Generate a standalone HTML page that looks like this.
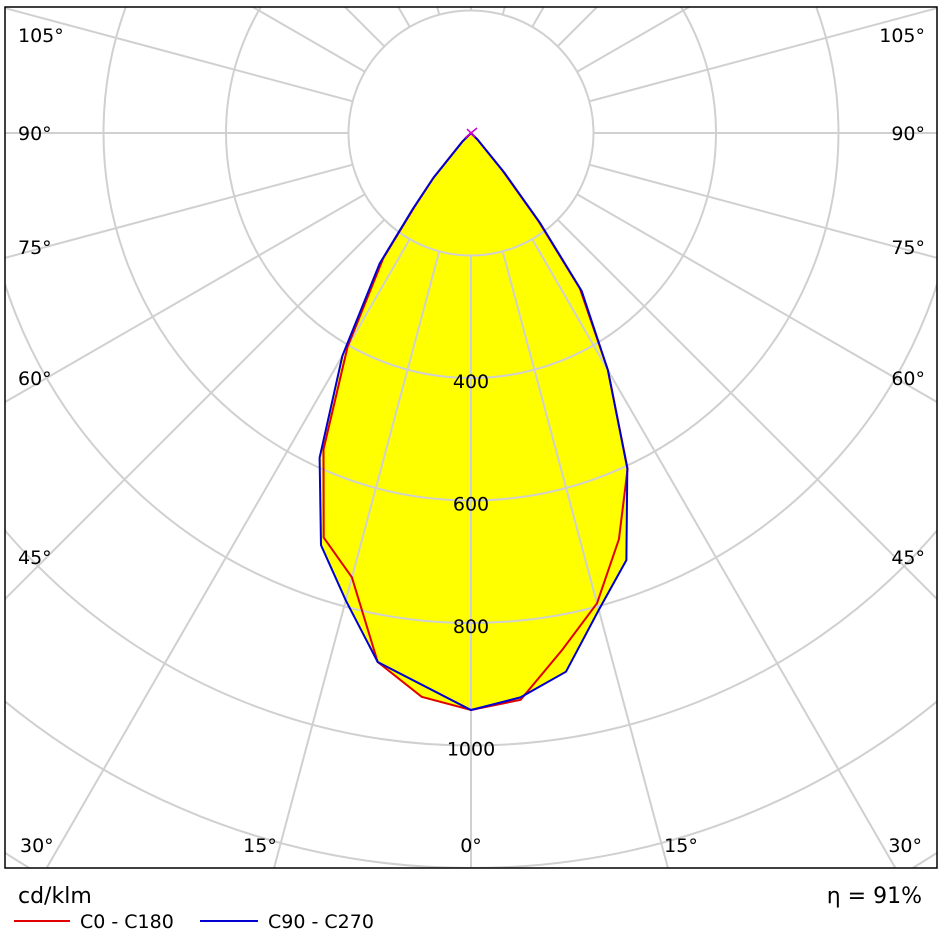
<!DOCTYPE html>
<html><head><meta charset="utf-8"><style>
html,body{margin:0;padding:0;background:#fff;overflow:hidden;}
svg{display:block;}
svg text{font-family:"DejaVu Sans","Liberation Sans",sans-serif;}
</style></head><body>
<svg width="943" height="943" viewBox="0 0 943 943">
<defs><clipPath id="pc"><rect x="5" y="7" width="932" height="861"/></clipPath></defs>
<rect x="0" y="0" width="943" height="943" fill="#fff"/>
<g id="fills" clip-path="url(#pc)"></g>
<g id="grid" clip-path="url(#pc)"></g>
<g id="curves" clip-path="url(#pc)"></g>
<g id="labels"></g>
<rect x="5" y="7" width="932" height="861" fill="none" stroke="#000" stroke-width="1.5"/>
<text x="18" y="903" font-size="22">cd/klm</text>
<text x="922" y="903" font-size="22" text-anchor="end">η = 91%</text>
<line x1="14" y1="921" x2="70" y2="921" stroke="#e00000" stroke-width="2"/>
<text x="80" y="928" font-size="19">C0 - C180</text>
<line x1="200" y1="921" x2="258" y2="921" stroke="#0000d0" stroke-width="2"/>
<text x="268" y="928" font-size="19">C90 - C270</text>
</svg>
<script>
const angles=[0,5,10,15,20,25,30,35,37.5,40,45,50,60,70,80,90];
const redLeft=[942,924,877,751,703,570,403,250,150,95,20,0,0,0,0,0];
const redRight=[942,929,857,795,706,605,447,310,180,80,15,0,0,0,0,0];
const blueLeft=[942,905,877,790,716,585,420,260,155,95,20,0,0,0,0,0];
const blueRight=[942,925,893,806,742,604,447,315,185,85,15,0,0,0,0,0];
const ringValues=[200,400,600,800,1000,1200,1400];
const ringLabels=["400","600","800","1000"];
const cx=471,cy=133,scale=0.6125;
const NS="http://www.w3.org/2000/svg";
function rad(v){return v*scale;}
function pt(a,v,side){const t=a*Math.PI/180;const r=rad(v);return [cx+side*r*Math.sin(t),cy+r*Math.cos(t)];}
function mk(tag,attrs,parent){const e=document.createElementNS(NS,tag);for(const k in attrs)e.setAttribute(k,attrs[k]);parent.appendChild(e);return e;}
function pathFor(left,right){const pts=[];for(let i=angles.length-1;i>=0;i--)pts.push(pt(angles[i],left[i],-1));for(let i=0;i<angles.length;i++)pts.push(pt(angles[i],right[i],1));return 'M'+pts.map(p=>p[0].toFixed(1)+','+p[1].toFixed(1)).join('L')+'Z';}
const fills=document.getElementById('fills');
const redD=pathFor(redLeft,redRight),blueD=pathFor(blueLeft,blueRight);
const f1=mk('path',{d:redD,fill:'#ffff00',stroke:'none'},fills);


const f2=mk('path',{d:blueD,fill:'#ffff00',stroke:'none'},fills);


const grid=document.getElementById('grid');
ringValues.forEach(v=>{const c=mk('circle',{cx:cx,cy:cy,r:rad(v),fill:'none',stroke:'#d0d0d0','stroke-width':2},grid);

});
for(let a=0;a<360;a+=15){const t=a*Math.PI/180;const r0=rad(200),r1=1400;
const l=mk('line',{x1:cx+r0*Math.sin(t),y1:cy+r0*Math.cos(t),x2:cx+r1*Math.sin(t),y2:cy+r1*Math.cos(t),stroke:'#d0d0d0','stroke-width':2},grid);

}
const curves=document.getElementById('curves');
const p1=mk('path',{d:redD,fill:'none',stroke:'#e00000','stroke-width':2},curves);


const p2=mk('path',{d:blueD,fill:'none',stroke:'#0000d0','stroke-width':2},curves);


const m=mk('path',{d:`M${cx-6},${cy+5}L${cx+6},${cy-5}M${cx-4},${cy-4}L${cx+4},${cy+4}`,stroke:'#d000d0','stroke-width':1.5},curves);


const labels=document.getElementById('labels');
ringLabels.forEach(s=>{const v=+s;
const tx=mk('text',{x:cx,y:cy+rad(v)+10,'font-size':19,'text-anchor':'middle'},labels);tx.textContent=s;

});
const angLabels=[["105°",18,42,"start"],["90°",18,140,"start"],["75°",18,254,"start"],["60°",18,385,"start"],["45°",18,564,"start"],["30°",20,852,"start"],["105°",925,42,"end"],["90°",925,140,"end"],["75°",925,254,"end"],["60°",925,385,"end"],["45°",925,564,"end"],["30°",922,852,"end"],["15°",260,852,"middle"],["0°",471,852,"middle"],["15°",681,852,"middle"]];
angLabels.forEach(d=>{const tx=mk('text',{x:d[1],y:d[2],'font-size':19,'text-anchor':d[3]},labels);tx.textContent=d[0];

});
</script>
</body></html>
